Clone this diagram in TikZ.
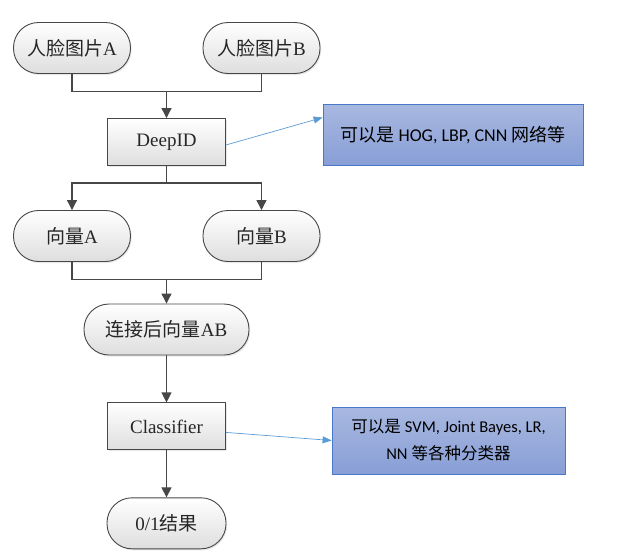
\documentclass[tikz,border=0pt]{standalone}
\usepackage{fontspec}
\setmainfont{Liberation Serif}
\newfontfamily\cjkfont{Noto Sans CJK SC}
\newfontfamily\notefont{Carlito}
\usepackage{tikz}
\usetikzlibrary{positioning, arrows.meta, shadows, calc}

\definecolor{linegray}{HTML}{474747}
\definecolor{textgray}{HTML}{262626}
\definecolor{noteblue}{HTML}{4A78C8}
\definecolor{arrowblue}{HTML}{5B9BD5}

\newcommand{\zh}[1]{{\cjkfont #1}}

\begin{document}
\begin{tikzpicture}[
        x=1pt, y=1pt,
        term/.style={rectangle, rounded corners=25pt, draw=linegray, line width=0.9pt,
            top color=white, bottom color=black!13, text=textgray,
            drop shadow={shadow xshift=1.2pt, shadow yshift=-1.5pt, opacity=0.18},
            minimum width=117pt, minimum height=51pt, font=\fontsize{19}{21}\selectfont},
        proc/.style={rectangle, draw=linegray, line width=0.9pt,
            top color=white, bottom color=black!13, text=textgray,
            drop shadow={shadow xshift=1.2pt, shadow yshift=-1.5pt, opacity=0.18},
            minimum width=118pt, minimum height=47pt, font=\fontsize{19}{21}\selectfont},
        note/.style={rectangle, draw=noteblue, line width=0.8pt,
            top color={rgb,255:red,168;green,184;blue,224}, bottom color={rgb,255:red,136;green,158;blue,214},
            align=center, text=black},
        line/.style={draw=linegray, line width=1.1pt},
        arr/.style={line, -{Triangle[length=10pt, width=10pt]}},
        hint/.style={draw=arrowblue, line width=0.7pt, -{Triangle[length=9pt, width=7pt]}}
    ]
    \useasboundingbox (0,0) rectangle (621,-557);

    % input faces
    \node[term] (faceA) at (72,-48) {\zh{人脸图片}A};
    \node[term] (faceB) at (261.5,-48) {\zh{人脸图片}B};

    \node[proc] (deepid) at (166.5,-142) {DeepID};

    \node[term] (vecA) at (72,-236) {\zh{向量}A};
    \node[term] (vecB) at (261.5,-236) {\zh{向量}B};

    \node[term, minimum width=165pt] (concat) at (166.5,-329.5) {\zh{连接后向量}AB};
    \node[proc, below=47pt of concat] (classifier) {Classifier};
    \node[term, minimum width=119pt, below=47pt of classifier] (result) {0/1\zh{结果}};

    % side notes
    \node[note, minimum width=260pt, minimum height=61pt, font=\fontsize{18}{20}\selectfont] (note1) at (453,-134.5)
        {\zh{可以是} {\notefont HOG, LBP, CNN} \zh{网络等}};
    \node[note, minimum width=233pt, minimum height=67pt, font=\fontsize{16.5}{27}\selectfont] (note2) at (448.5,-440.5)
        {\zh{可以是} {\notefont SVM, Joint Bayes, LR,}\\{\notefont NN} \zh{等各种分类器}};

    % connectors
    \coordinate (j1) at ([yshift=27pt]deepid.north);
    \coordinate (j2) at ([yshift=-17pt]deepid.south);
    \coordinate (j3) at ([yshift=24pt]concat.north);

    \draw[line] (faceA.south) |- (j1) -| (faceB.south);
    \draw[arr] (j1) -- (deepid.north);

    \draw[line] (deepid.south) -- (j2);
    \draw[arr] (j2) -| (vecA.north);
    \draw[arr] (j2) -| (vecB.north);

    \draw[line] (vecA.south) |- (j3) -| (vecB.south);
    \draw[arr] (j3) -- (concat.north);

    \draw[arr] (concat) -- (classifier);
    \draw[arr] (classifier) -- (result);

    \draw[hint] ([yshift=-3pt]deepid.east) -- ([yshift=17pt]note1.west);
    \draw[hint] ([yshift=-6pt]classifier.east) -- (note2.west);

\end{tikzpicture}
\end{document}
